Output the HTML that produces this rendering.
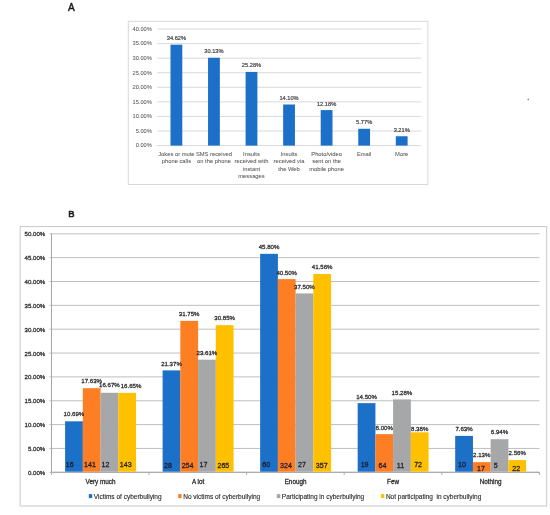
<!DOCTYPE html>
<html><head><meta charset="utf-8"><title>Charts</title>
<style>html,body{margin:0;padding:0;background:#fff;}svg{display:block;filter:blur(0.55px);}text{stroke-width:0.26;stroke-linejoin:round;}.ca text{stroke-width:0.05;}text.lg{stroke-width:0.12;}.ca text.dl{stroke-width:0.18;}</style>
</head><body>
<svg width="550" height="515" viewBox="0 0 550 515" font-family='"Liberation Sans", Arial, sans-serif'>
<rect x="0" y="0" width="550" height="515" fill="#fff"/>
<text x="68.1" y="11.0" font-size="10.1" fill="#1a1a1a" stroke="#1a1a1a" style="stroke-width:0.45">A</text>
<text x="68.2" y="217.0" font-size="9.3" fill="#1a1a1a" stroke="#1a1a1a" style="stroke-width:0.6">B</text>
<circle cx="528.2" cy="99.6" r="0.8" fill="#777"/>
<g class="ca">
<rect x="128.3" y="21.3" width="299.6" height="163.2" fill="#fff" stroke="#d9d9d9" stroke-width="1"/>
<line x1="157.2" y1="145.6" x2="421.3" y2="145.6" stroke="#d9d9d9" stroke-width="1"/>
<text x="151.8" y="147.4" font-size="5.7" fill="#595959" stroke="#595959" text-anchor="end">0.00%</text>
<line x1="157.2" y1="131.03" x2="421.3" y2="131.03" stroke="#d9d9d9" stroke-width="1"/>
<text x="151.8" y="132.83" font-size="5.7" fill="#595959" stroke="#595959" text-anchor="end">5.00%</text>
<line x1="157.2" y1="116.45" x2="421.3" y2="116.45" stroke="#d9d9d9" stroke-width="1"/>
<text x="151.8" y="118.25" font-size="5.7" fill="#595959" stroke="#595959" text-anchor="end">10.00%</text>
<line x1="157.2" y1="101.88" x2="421.3" y2="101.88" stroke="#d9d9d9" stroke-width="1"/>
<text x="151.8" y="103.67" font-size="5.7" fill="#595959" stroke="#595959" text-anchor="end">15.00%</text>
<line x1="157.2" y1="87.3" x2="421.3" y2="87.3" stroke="#d9d9d9" stroke-width="1"/>
<text x="151.8" y="89.1" font-size="5.7" fill="#595959" stroke="#595959" text-anchor="end">20.00%</text>
<line x1="157.2" y1="72.72" x2="421.3" y2="72.72" stroke="#d9d9d9" stroke-width="1"/>
<text x="151.8" y="74.52" font-size="5.7" fill="#595959" stroke="#595959" text-anchor="end">25.00%</text>
<line x1="157.2" y1="58.15" x2="421.3" y2="58.15" stroke="#d9d9d9" stroke-width="1"/>
<text x="151.8" y="59.95" font-size="5.7" fill="#595959" stroke="#595959" text-anchor="end">30.00%</text>
<line x1="157.2" y1="43.58" x2="421.3" y2="43.58" stroke="#d9d9d9" stroke-width="1"/>
<text x="151.8" y="45.38" font-size="5.7" fill="#595959" stroke="#595959" text-anchor="end">35.00%</text>
<line x1="157.2" y1="29" x2="421.3" y2="29" stroke="#d9d9d9" stroke-width="1"/>
<text x="151.8" y="30.8" font-size="5.7" fill="#595959" stroke="#595959" text-anchor="end">40.00%</text>
<rect x="170.5" y="44.68" width="11.8" height="100.92" fill="#1c70c8"/>
<text class="dl" x="176.4" y="40.08" font-size="5.7" fill="#404040" stroke="#404040" text-anchor="middle">34.62%</text>
<text x="176.4" y="155.6" font-size="5.8" fill="#595959" stroke="#595959" text-anchor="middle">Jokes or mute</text>
<text x="176.4" y="163.15" font-size="5.8" fill="#595959" stroke="#595959" text-anchor="middle">phone calls</text>
<rect x="208.05" y="57.77" width="11.8" height="87.83" fill="#1c70c8"/>
<text class="dl" x="213.95" y="53.17" font-size="5.7" fill="#404040" stroke="#404040" text-anchor="middle">30.13%</text>
<text x="213.95" y="155.6" font-size="5.8" fill="#595959" stroke="#595959" text-anchor="middle">SMS received</text>
<text x="213.95" y="163.15" font-size="5.8" fill="#595959" stroke="#595959" text-anchor="middle">on the phone</text>
<rect x="245.6" y="71.91" width="11.8" height="73.69" fill="#1c70c8"/>
<text class="dl" x="251.5" y="67.31" font-size="5.7" fill="#404040" stroke="#404040" text-anchor="middle">25.28%</text>
<text x="251.5" y="155.6" font-size="5.8" fill="#595959" stroke="#595959" text-anchor="middle">Insults</text>
<text x="251.5" y="163.15" font-size="5.8" fill="#595959" stroke="#595959" text-anchor="middle">received with</text>
<text x="251.5" y="170.7" font-size="5.8" fill="#595959" stroke="#595959" text-anchor="middle">instant</text>
<text x="251.5" y="178.25" font-size="5.8" fill="#595959" stroke="#595959" text-anchor="middle">messages</text>
<rect x="283.15" y="104.5" width="11.8" height="41.1" fill="#1c70c8"/>
<text class="dl" x="289.05" y="99.9" font-size="5.7" fill="#404040" stroke="#404040" text-anchor="middle">14.10%</text>
<text x="289.05" y="155.6" font-size="5.8" fill="#595959" stroke="#595959" text-anchor="middle">Insults</text>
<text x="289.05" y="163.15" font-size="5.8" fill="#595959" stroke="#595959" text-anchor="middle">received via</text>
<text x="289.05" y="170.7" font-size="5.8" fill="#595959" stroke="#595959" text-anchor="middle">the Web</text>
<rect x="320.7" y="110.1" width="11.8" height="35.5" fill="#1c70c8"/>
<text class="dl" x="326.6" y="105.5" font-size="5.7" fill="#404040" stroke="#404040" text-anchor="middle">12.18%</text>
<text x="326.6" y="155.6" font-size="5.8" fill="#595959" stroke="#595959" text-anchor="middle">Photo/video</text>
<text x="326.6" y="163.15" font-size="5.8" fill="#595959" stroke="#595959" text-anchor="middle">sent on the</text>
<text x="326.6" y="170.7" font-size="5.8" fill="#595959" stroke="#595959" text-anchor="middle">mobile phone</text>
<rect x="358.25" y="128.78" width="11.8" height="16.82" fill="#1c70c8"/>
<text class="dl" x="364.15" y="124.18" font-size="5.7" fill="#404040" stroke="#404040" text-anchor="middle">5.77%</text>
<text x="364.15" y="155.6" font-size="5.8" fill="#595959" stroke="#595959" text-anchor="middle">Email</text>
<rect x="395.8" y="136.24" width="11.8" height="9.36" fill="#1c70c8"/>
<text class="dl" x="401.7" y="131.64" font-size="5.7" fill="#404040" stroke="#404040" text-anchor="middle">3.21%</text>
<text x="401.7" y="155.6" font-size="5.8" fill="#595959" stroke="#595959" text-anchor="middle">More</text>
</g>
<rect x="20.2" y="226.6" width="526.5" height="279.4" fill="#fff" stroke="#c8c8c8" stroke-width="1"/>
<line x1="49.4" y1="472.3" x2="539.4" y2="472.3" stroke="#bfbfbf" stroke-width="1"/>
<text x="45.2" y="474.8" font-size="6.1" fill="#2a2a2a" stroke="#2a2a2a" text-anchor="end">0.00%</text>
<line x1="49.4" y1="448.45" x2="539.4" y2="448.45" stroke="#bfbfbf" stroke-width="1"/>
<text x="45.2" y="450.95" font-size="6.1" fill="#2a2a2a" stroke="#2a2a2a" text-anchor="end">5.00%</text>
<line x1="49.4" y1="424.6" x2="539.4" y2="424.6" stroke="#bfbfbf" stroke-width="1"/>
<text x="45.2" y="427.1" font-size="6.1" fill="#2a2a2a" stroke="#2a2a2a" text-anchor="end">10.00%</text>
<line x1="49.4" y1="400.75" x2="539.4" y2="400.75" stroke="#bfbfbf" stroke-width="1"/>
<text x="45.2" y="403.25" font-size="6.1" fill="#2a2a2a" stroke="#2a2a2a" text-anchor="end">15.00%</text>
<line x1="49.4" y1="376.9" x2="539.4" y2="376.9" stroke="#bfbfbf" stroke-width="1"/>
<text x="45.2" y="379.4" font-size="6.1" fill="#2a2a2a" stroke="#2a2a2a" text-anchor="end">20.00%</text>
<line x1="49.4" y1="353.05" x2="539.4" y2="353.05" stroke="#bfbfbf" stroke-width="1"/>
<text x="45.2" y="355.55" font-size="6.1" fill="#2a2a2a" stroke="#2a2a2a" text-anchor="end">25.00%</text>
<line x1="49.4" y1="329.2" x2="539.4" y2="329.2" stroke="#bfbfbf" stroke-width="1"/>
<text x="45.2" y="331.7" font-size="6.1" fill="#2a2a2a" stroke="#2a2a2a" text-anchor="end">30.00%</text>
<line x1="49.4" y1="305.35" x2="539.4" y2="305.35" stroke="#bfbfbf" stroke-width="1"/>
<text x="45.2" y="307.85" font-size="6.1" fill="#2a2a2a" stroke="#2a2a2a" text-anchor="end">35.00%</text>
<line x1="49.4" y1="281.5" x2="539.4" y2="281.5" stroke="#bfbfbf" stroke-width="1"/>
<text x="45.2" y="284" font-size="6.1" fill="#2a2a2a" stroke="#2a2a2a" text-anchor="end">40.00%</text>
<line x1="49.4" y1="257.65" x2="539.4" y2="257.65" stroke="#bfbfbf" stroke-width="1"/>
<text x="45.2" y="260.15" font-size="6.1" fill="#2a2a2a" stroke="#2a2a2a" text-anchor="end">45.00%</text>
<line x1="49.4" y1="233.8" x2="539.4" y2="233.8" stroke="#bfbfbf" stroke-width="1"/>
<text x="45.2" y="236.3" font-size="6.1" fill="#2a2a2a" stroke="#2a2a2a" text-anchor="end">50.00%</text>
<line x1="51.5" y1="233.8" x2="51.5" y2="472.3" stroke="#a6a6a6" stroke-width="1"/>
<line x1="51.4" y1="472.3" x2="51.4" y2="474.8" stroke="#a6a6a6" stroke-width="1"/>
<line x1="149" y1="472.3" x2="149" y2="474.8" stroke="#a6a6a6" stroke-width="1"/>
<line x1="246.6" y1="472.3" x2="246.6" y2="474.8" stroke="#a6a6a6" stroke-width="1"/>
<line x1="344.2" y1="472.3" x2="344.2" y2="474.8" stroke="#a6a6a6" stroke-width="1"/>
<line x1="441.8" y1="472.3" x2="441.8" y2="474.8" stroke="#a6a6a6" stroke-width="1"/>
<line x1="539.4" y1="472.3" x2="539.4" y2="474.8" stroke="#a6a6a6" stroke-width="1"/>
<line x1="51.4" y1="472.3" x2="539.4" y2="472.3" stroke="#a6a6a6" stroke-width="1"/>
<rect x="65.1" y="421.31" width="17.77" height="50.39" fill="#1c70c8"/>
<rect x="82.82" y="388.2" width="17.77" height="83.5" fill="#fe7e24"/>
<rect x="100.54" y="392.78" width="17.77" height="78.92" fill="#a6a7a8"/>
<rect x="118.26" y="392.88" width="17.77" height="78.82" fill="#ffc000"/>
<text x="100.54" y="483.7" font-size="6.35" fill="#2a2a2a" stroke="#2a2a2a" text-anchor="middle">Very much</text>
<rect x="162.62" y="370.37" width="17.77" height="101.33" fill="#1c70c8"/>
<rect x="180.34" y="320.85" width="17.77" height="150.85" fill="#fe7e24"/>
<rect x="198.06" y="359.68" width="17.77" height="112.02" fill="#a6a7a8"/>
<rect x="215.78" y="325.15" width="17.77" height="146.55" fill="#ffc000"/>
<text x="198.06" y="483.7" font-size="6.35" fill="#2a2a2a" stroke="#2a2a2a" text-anchor="middle">A lot</text>
<rect x="260.14" y="253.83" width="17.77" height="217.87" fill="#1c70c8"/>
<rect x="277.86" y="279.12" width="17.77" height="192.58" fill="#fe7e24"/>
<rect x="295.58" y="293.43" width="17.77" height="178.27" fill="#a6a7a8"/>
<rect x="313.3" y="274.06" width="17.77" height="197.64" fill="#ffc000"/>
<text x="295.58" y="483.7" font-size="6.35" fill="#2a2a2a" stroke="#2a2a2a" text-anchor="middle">Enough</text>
<rect x="357.66" y="403.13" width="17.77" height="68.56" fill="#1c70c8"/>
<rect x="375.38" y="434.14" width="17.77" height="37.56" fill="#fe7e24"/>
<rect x="393.1" y="399.41" width="17.77" height="72.29" fill="#a6a7a8"/>
<rect x="410.82" y="432.33" width="17.77" height="39.37" fill="#ffc000"/>
<text x="393.1" y="483.7" font-size="6.35" fill="#2a2a2a" stroke="#2a2a2a" text-anchor="middle">Few</text>
<rect x="455.18" y="435.9" width="17.77" height="35.8" fill="#1c70c8"/>
<rect x="472.9" y="462.14" width="17.77" height="9.56" fill="#fe7e24"/>
<rect x="490.62" y="439.2" width="17.77" height="32.5" fill="#a6a7a8"/>
<rect x="508.34" y="460.09" width="17.77" height="11.61" fill="#ffc000"/>
<text x="490.62" y="483.7" font-size="6.35" fill="#2a2a2a" stroke="#2a2a2a" text-anchor="middle">Nothing</text>
<text x="73.96" y="416.26" font-size="6.1" fill="#2a2a2a" stroke="#2a2a2a" text-anchor="middle">10.69%</text>
<text x="65.85" y="467.15" font-size="7.1" fill="#1c1c2c" stroke="#1c1c2c">16</text>
<text x="91.68" y="382.85" font-size="6.1" fill="#2a2a2a" stroke="#2a2a2a" text-anchor="middle">17.63%</text>
<text x="84.05" y="467.15" font-size="7.1" fill="#1c1c2c" stroke="#1c1c2c">141</text>
<text x="109.4" y="387.43" font-size="6.1" fill="#2a2a2a" stroke="#2a2a2a" text-anchor="middle">16.67%</text>
<text x="101.55" y="467.15" font-size="7.1" fill="#1c1c2c" stroke="#1c1c2c">12</text>
<text x="131.02" y="387.53" font-size="6.1" fill="#2a2a2a" stroke="#2a2a2a" text-anchor="middle">16.65%</text>
<text x="119.75" y="467.15" font-size="7.1" fill="#1c1c2c" stroke="#1c1c2c">143</text>
<text x="171.48" y="365.52" font-size="6.1" fill="#2a2a2a" stroke="#2a2a2a" text-anchor="middle">21.37%</text>
<text x="163.95" y="467.75" font-size="7.1" fill="#1c1c2c" stroke="#1c1c2c">28</text>
<text x="189.2" y="316.1" font-size="6.1" fill="#2a2a2a" stroke="#2a2a2a" text-anchor="middle">31.75%</text>
<text x="181.65" y="467.75" font-size="7.1" fill="#1c1c2c" stroke="#1c1c2c">254</text>
<text x="206.92" y="354.93" font-size="6.1" fill="#2a2a2a" stroke="#2a2a2a" text-anchor="middle">23.61%</text>
<text x="199.55" y="467.45" font-size="7.1" fill="#1c1c2c" stroke="#1c1c2c">17</text>
<text x="224.64" y="320.3" font-size="6.1" fill="#2a2a2a" stroke="#2a2a2a" text-anchor="middle">30.85%</text>
<text x="217.45" y="468.45" font-size="7.1" fill="#1c1c2c" stroke="#1c1c2c">265</text>
<text x="269" y="249.38" font-size="6.1" fill="#2a2a2a" stroke="#2a2a2a" text-anchor="middle">45.80%</text>
<text x="262.25" y="467.45" font-size="7.1" fill="#1c1c2c" stroke="#1c1c2c">60</text>
<text x="286.72" y="274.96" font-size="6.1" fill="#2a2a2a" stroke="#2a2a2a" text-anchor="middle">40.50%</text>
<text x="280.05" y="468.05" font-size="7.1" fill="#1c1c2c" stroke="#1c1c2c">324</text>
<text x="304.44" y="289.27" font-size="6.1" fill="#2a2a2a" stroke="#2a2a2a" text-anchor="middle">37.50%</text>
<text x="297.95" y="467.45" font-size="7.1" fill="#1c1c2c" stroke="#1c1c2c">27</text>
<text x="322.16" y="269.31" font-size="6.1" fill="#2a2a2a" stroke="#2a2a2a" text-anchor="middle">41.56%</text>
<text x="315.75" y="468.05" font-size="7.1" fill="#1c1c2c" stroke="#1c1c2c">357</text>
<text x="366.52" y="398.58" font-size="6.1" fill="#2a2a2a" stroke="#2a2a2a" text-anchor="middle">14.50%</text>
<text x="360.65" y="467.45" font-size="7.1" fill="#1c1c2c" stroke="#1c1c2c">19</text>
<text x="384.24" y="429.99" font-size="6.1" fill="#2a2a2a" stroke="#2a2a2a" text-anchor="middle">8.00%</text>
<text x="378.55" y="467.55" font-size="7.1" fill="#1c1c2c" stroke="#1c1c2c">64</text>
<text x="401.96" y="394.86" font-size="6.1" fill="#2a2a2a" stroke="#2a2a2a" text-anchor="middle">15.28%</text>
<text x="396.75" y="468.15" font-size="7.1" fill="#1c1c2c" stroke="#1c1c2c">11</text>
<text x="419.68" y="431.48" font-size="6.1" fill="#2a2a2a" stroke="#2a2a2a" text-anchor="middle">8.38%</text>
<text x="414.15" y="467.45" font-size="7.1" fill="#1c1c2c" stroke="#1c1c2c">72</text>
<text x="464.04" y="430.95" font-size="6.1" fill="#2a2a2a" stroke="#2a2a2a" text-anchor="middle">7.63%</text>
<text x="458.05" y="467.45" font-size="7.1" fill="#1c1c2c" stroke="#1c1c2c">10</text>
<text x="481.76" y="456.89" font-size="6.1" fill="#2a2a2a" stroke="#2a2a2a" text-anchor="middle">2.13%</text>
<text x="477.05" y="470.65" font-size="7.1" fill="#1c1c2c" stroke="#1c1c2c">17</text>
<text x="499.48" y="434.45" font-size="6.1" fill="#2a2a2a" stroke="#2a2a2a" text-anchor="middle">6.94%</text>
<text x="493.75" y="468.05" font-size="7.1" fill="#1c1c2c" stroke="#1c1c2c">5</text>
<text x="517.2" y="454.94" font-size="6.1" fill="#2a2a2a" stroke="#2a2a2a" text-anchor="middle">2.56%</text>
<text x="512.35" y="470.95" font-size="7.1" fill="#1c1c2c" stroke="#1c1c2c">22</text>
<rect x="88.8" y="494.1" width="3.4" height="4" fill="#1c70c8"/>
<text class="lg" x="93.8" y="498.8" font-size="6.5" fill="#2a2a2a" stroke="#2a2a2a" style="white-space:pre">Victims of cyberbullying</text>
<rect x="178.2" y="494.1" width="3.4" height="4" fill="#fe7e24"/>
<text class="lg" x="183.2" y="498.8" font-size="6.5" fill="#2a2a2a" stroke="#2a2a2a" style="white-space:pre">No victims of cyberbullying</text>
<rect x="276.8" y="494.1" width="3.4" height="4" fill="#a6a7a8"/>
<text class="lg" x="281.8" y="498.8" font-size="6.5" fill="#2a2a2a" stroke="#2a2a2a" style="white-space:pre">Participating in cyberbullying</text>
<rect x="380.9" y="494.1" width="3.4" height="4" fill="#ffc000"/>
<text class="lg" x="385.9" y="498.8" font-size="6.5" fill="#2a2a2a" stroke="#2a2a2a" style="white-space:pre">Not participating  in cyberbullying</text>
</svg>
</body></html>
